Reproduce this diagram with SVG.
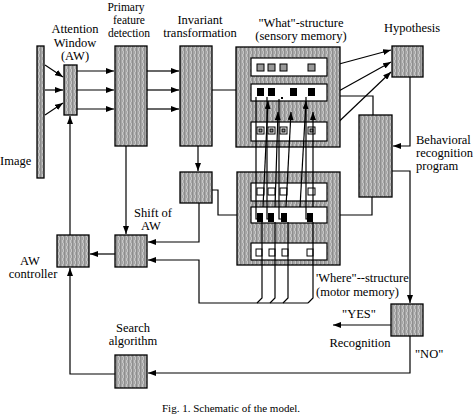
<svg xmlns="http://www.w3.org/2000/svg" width="474" height="414" viewBox="0 0 474 414">
<style>
.b{fill:url(#g);stroke:#000;stroke-width:1.3}
.w{fill:#fff;stroke:#000;stroke-width:1.2}
.c{fill:none;stroke:#000;stroke-width:1.2}
.a{fill:none;stroke:#000;stroke-width:1.2;marker-end:url(#ar)}
.t{font-family:"Liberation Serif","Times New Roman",serif;font-size:12.5px;fill:#000}
.s{font-size:11.5px}
.m{text-anchor:middle}
.sq{fill:#999;stroke:#000;stroke-width:1}
.bk{fill:#000}
.os{fill:#fff;stroke:#000;stroke-width:1}
</style>
<defs>
<pattern id="g" width="4" height="6" patternUnits="userSpaceOnUse">
<rect width="4" height="6" fill="#a6a6a6"/>
<rect x="0" width="1" height="6" fill="#8e8e8e"/>
<rect x="2" y="0" width="1" height="3" fill="#c6c6c6"/>
<rect x="3" y="3" width="1" height="3" fill="#c6c6c6"/>
</pattern>
<marker id="ar" markerWidth="8" markerHeight="6" refX="8" refY="3" orient="auto" markerUnits="userSpaceOnUse">
<path d="M0,0 L8,3 L0,6 z" fill="#000"/>
</marker>
</defs>
<rect width="474" height="414" fill="#fff"/>

<g id="connectors">
<path class="a" d="M45,65 L63,77"/>
<path class="a" d="M45,90 L63,90"/>
<path class="a" d="M45,115 L63,103"/>
<path class="a" d="M77,71 H114"/>
<path class="a" d="M77,90 H114"/>
<path class="a" d="M77,109 H114"/>
<path class="a" d="M147,71 H179"/>
<path class="a" d="M147,90 H179"/>
<path class="a" d="M147,109 H179"/>
<path class="a" d="M212,90 H250"/>
<path class="a" d="M238,88 L251,73"/>
<path class="a" d="M238,92 L250,131"/>
<path class="a" d="M328,67 L391,50"/>
<path class="a" d="M328,97 L391,62"/>
<path class="a" d="M328,132 L391,72"/>
<path class="a" d="M373,115 V96 H328"/>
<path class="a" d="M410,77 V146 H393"/>
<path class="a" d="M392,171 H410 V303"/>
<path class="a" d="M372,197 V215 H328"/>
<path class="a" d="M212,190 H218 V215 H250"/>
<path class="a" d="M198,146 V171"/>
<path class="a" d="M199,203 V242 H148"/>
<path class="a" d="M126,146 V234"/>
<path class="a" d="M308,303 H199 V260 H148"/>
<path class="a" d="M115,254 H90"/>
<path class="a" d="M70,235 V116"/>
<path class="a" d="M115,374 H70 V268"/>
<path class="a" d="M410,336 V373 H148"/>
<path class="a" d="M391,325 H333"/>
</g>

<g id="image"><rect class="b" x="37" y="46" width="7" height="132"/></g>
<g id="aw"><rect class="b" x="64" y="65" width="13" height="50"/></g>
<g id="pfd"><rect class="b" x="115" y="46" width="32" height="100"/></g>
<g id="invariant"><rect class="b" x="180" y="46" width="32" height="100"/></g>
<g id="proj"><rect class="b" x="180" y="172" width="32" height="31"/></g>
<g id="hypothesis"><rect class="b" x="392" y="46" width="31" height="31"/></g>
<g id="behavioral"><rect class="b" x="359" y="115" width="33" height="82"/></g>
<g id="recognition"><rect class="b" x="391" y="304" width="32" height="32"/></g>
<g id="shift"><rect class="b" x="115" y="235" width="32" height="32"/></g>
<g id="awcontroller"><rect class="b" x="57" y="235" width="32" height="32"/></g>
<g id="search"><rect class="b" x="115" y="355" width="32" height="33"/></g>

<g id="what">
<rect class="b" x="236" y="47" width="104" height="100"/>
<rect class="w" x="251" y="58" width="76" height="18"/>
<rect class="w" x="251" y="84" width="76" height="17"/>
<rect class="w" x="251" y="122" width="76" height="19"/>
<rect class="sq" x="257" y="64" width="7" height="7"/>
<rect class="sq" x="268" y="64" width="7" height="7"/>
<rect class="sq" x="280" y="64" width="7" height="7"/>
<rect class="sq" x="308" y="64" width="7" height="7"/>
<rect class="bk" x="257" y="88" width="7" height="8"/>
<rect class="bk" x="268" y="88" width="7" height="8"/>
<rect class="bk" x="290" y="88" width="7" height="8"/>
<rect class="bk" x="308" y="88" width="7" height="8"/>
<rect class="bk" x="281" y="97" width="2" height="2"/>
<rect class="os" x="257" y="127" width="7" height="7"/>
<rect class="os" x="268" y="127" width="7" height="7"/>
<rect class="os" x="280" y="127" width="7" height="7"/>
<rect class="os" x="308" y="127" width="7" height="7"/>
<rect class="sq" x="259" y="129" width="3" height="3"/>
<rect class="sq" x="270" y="129" width="3" height="3"/>
<rect class="sq" x="282" y="129" width="3" height="3"/>
<rect class="sq" x="310" y="129" width="3" height="3"/>
</g>

<g id="where">
<rect class="b" x="237" y="172" width="103" height="93"/>
<rect class="w" x="251" y="183" width="76" height="18"/>
<rect class="w" x="251" y="207" width="76" height="16"/>
<rect class="w" x="251" y="243" width="76" height="17"/>
<rect class="os" x="257" y="188" width="7" height="7"/>
<rect class="os" x="268" y="188" width="7" height="7"/>
<rect class="os" x="280" y="188" width="7" height="7"/>
<rect class="os" x="308" y="188" width="7" height="7"/>
<rect class="bk" x="257" y="213" width="6" height="9"/>
<rect class="bk" x="268" y="213" width="6" height="9"/>
<rect class="bk" x="281" y="213" width="6" height="9"/>
<rect class="bk" x="307" y="213" width="6" height="9"/>
<rect class="os" x="256" y="249" width="6" height="7"/>
<rect class="os" x="269" y="249" width="6" height="7"/>
<rect class="os" x="282" y="249" width="6" height="7"/>
<rect class="os" x="307" y="249" width="6" height="7"/>
</g>

<g id="links">
<path class="c" d="M256,97 V219 H258"/>
<path class="c" d="M267,97 V219 H269"/>
<path class="c" d="M279,99 V219 H281"/>
<path class="c" d="M306,97 V219 H308"/>
<path class="a" d="M263,207 L268,101"/>
<path class="a" d="M275,207 L278,112"/>
<path class="a" d="M286,207 L291,112"/>
<path class="a" d="M300,207 L306,101"/>
<path class="a" d="M313,207 L313,112"/>
<path class="c" d="M262,222 V298 L257,303"/>
<path class="c" d="M275,222 V298 L270,303"/>
<path class="c" d="M288,222 V298 L283,303"/>
<path class="c" d="M313,222 V298 L308,303"/>
</g>

<g id="labels">
<text class="t s m" x="126" y="10.5">Primary</text>
<text class="t s m" x="129" y="23.5">feature</text>
<text class="t s m" x="129" y="36.5">detection</text>
<text class="t m" x="75" y="33">Attention</text>
<text class="t m" x="75" y="47">Window</text>
<text class="t m" x="75" y="60">(AW)</text>
<text class="t m" x="200" y="24">Invariant</text>
<text class="t m" x="200" y="37">transformation</text>
<text class="t m" x="301" y="27">"What"-structure</text>
<text class="t m" x="301" y="40">(sensory memory)</text>
<text class="t m" x="412" y="32">Hypothesis</text>
<text class="t" x="416" y="144">Behavioral</text>
<text class="t" x="416" y="157">recognition</text>
<text class="t" x="416" y="170">program</text>
<text class="t" x="0" y="165">Image</text>
<text class="t m" x="153" y="217">Shift of</text>
<text class="t m" x="151" y="230">AW</text>
<text class="t m" x="30" y="265">AW</text>
<text class="t m" x="33" y="278">controller</text>
<text class="t m" x="133" y="332">Search</text>
<text class="t m" x="133" y="345">algorithm</text>
<text class="t" x="316" y="282">'Where"--structure</text>
<text class="t" x="316" y="296">(motor memory)</text>
<text class="t m" x="359" y="318">"YES"</text>
<text class="t m" x="360" y="347">Recognition</text>
<text class="t" x="415" y="358">"NO"</text>
<text x="162" y="412" style="font-family:'Liberation Serif','Times New Roman',serif;font-size:11px">Fig. 1. Schematic of the model.</text>
</g>
</svg>
